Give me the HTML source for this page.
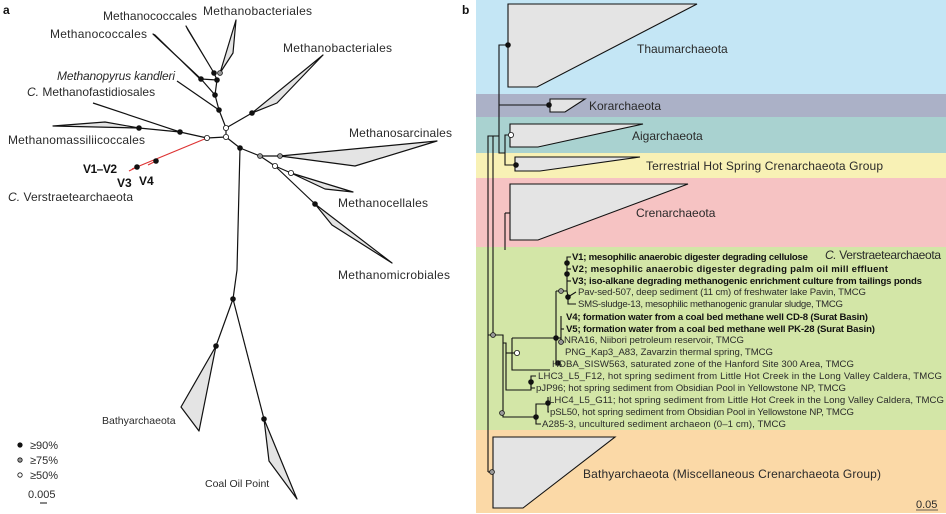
<!DOCTYPE html>
<html><head><meta charset="utf-8"><style>
html,body{margin:0;padding:0;background:#fff}
svg{display:block}
text{font-family:"Liberation Sans",sans-serif;fill:#2a2a2a}
.s{font-size:9.6px}
.b{font-weight:bold;fill:#111}
</style></head><body>
<svg width="946" height="514" viewBox="0 0 946 514" xmlns="http://www.w3.org/2000/svg">
<rect x="476" y="0" width="470" height="94" fill="#c4e6f5"/>
<rect x="476" y="94" width="470" height="23" fill="#abb1c7"/>
<rect x="476" y="117" width="470" height="36" fill="#a9d2d0"/>
<rect x="476" y="153" width="470" height="25" fill="#f8f1b5"/>
<rect x="476" y="178" width="470" height="69" fill="#f6c3c3"/>
<rect x="476" y="247" width="470" height="183" fill="#d3e6a7"/>
<rect x="476" y="430" width="470" height="83" fill="#fbd9a7"/>

<text x="3" y="14" style="font-size:12px;font-weight:bold;fill:#111">a</text>
<text x="462" y="14" style="font-size:12px;font-weight:bold;fill:#111">b</text>

<g stroke="#111" stroke-width="1.2" fill="#e4e4e4" stroke-linejoin="round">
<polyline fill="none" points="226,128 219,110 215,95 217,80 214,73"/>
<polyline fill="none" points="226,128 226,137"/>
<polygon points="220,73 236,20 233,53"/>
<polygon points="214,73 186,26 188,30 208,63"/>
<polygon points="201,79 153,34 155,35 199,78"/>
<line x1="217" y1="80" x2="201" y2="79"/>
<line x1="215" y1="95" x2="201" y2="79"/>
<line x1="219" y1="110" x2="177" y2="81"/>
<line x1="226" y1="128" x2="252" y2="113"/>
<polygon points="252,113 323,55 277,103"/>
<polyline fill="none" points="226,137 207,138 180,132 93,103"/>
<line x1="180" y1="132" x2="139" y2="128"/>
<polygon points="139,128 53,126 105,122"/>
<polyline fill="none" points="226,137 240,148 260,156 280,156"/>
<polygon points="280,156 437,141 355,166"/>
<polyline fill="none" points="260,156 275,166 291,173"/>
<polygon points="291,173 353,192 325,189"/>
<line x1="275" y1="166" x2="315" y2="204"/>
<polygon points="315,204 332,225 392,263"/>
<polyline fill="none" points="240,148 237,270 233,299"/>
<line x1="233" y1="299" x2="216" y2="346"/>
<polygon points="216,346 181,407 199,431"/>
<line x1="233" y1="299" x2="264" y2="419"/>
<polygon points="264,419 269,461 297,499"/>
</g>
<g stroke="#d33" stroke-width="1.2" fill="none">
<line x1="207" y1="138" x2="132" y2="169"/>
<line x1="137" y1="167" x2="129" y2="171"/>
<line x1="156" y1="161" x2="148" y2="165"/>
</g>
<g stroke="#111" stroke-width="0.8">
<circle cx="219" cy="110" r="2.4" fill="#111"/>
<circle cx="215" cy="95" r="2.4" fill="#111"/>
<circle cx="217" cy="80" r="2.4" fill="#111"/>
<circle cx="214" cy="73" r="2.4" fill="#111"/>
<circle cx="220" cy="73" r="2.4" fill="#999"/>
<circle cx="201" cy="79" r="2.4" fill="#111"/>
<circle cx="252" cy="113" r="2.4" fill="#111"/>
<circle cx="180" cy="132" r="2.4" fill="#111"/>
<circle cx="139" cy="128" r="2.4" fill="#111"/>
<circle cx="156" cy="161" r="2.4" fill="#111"/>
<circle cx="137" cy="167" r="2.4" fill="#111"/>
<circle cx="240" cy="148" r="2.4" fill="#111"/>
<circle cx="260" cy="156" r="2.4" fill="#999"/>
<circle cx="280" cy="156" r="2.4" fill="#999"/>
<circle cx="315" cy="204" r="2.4" fill="#111"/>
<circle cx="233" cy="299" r="2.4" fill="#111"/>
<circle cx="216" cy="346" r="2.4" fill="#111"/>
<circle cx="264" cy="419" r="2.4" fill="#111"/>
<circle cx="226" cy="128" r="2.6" fill="#fff"/>
<circle cx="226" cy="137" r="2.6" fill="#fff"/>
<circle cx="207" cy="138" r="2.6" fill="#fff"/>
<circle cx="275" cy="166" r="2.6" fill="#fff"/>
<circle cx="291" cy="173" r="2.6" fill="#fff"/>
<circle cx="20" cy="445" r="2.2" fill="#111"/>
<circle cx="20" cy="460" r="2.2" fill="#999"/>
<circle cx="20" cy="475" r="2.2" fill="#fff"/>
</g>
<g style="font-size:12px">
<text x="103" y="20" textLength="94">Methanococcales</text>
<text x="203" y="15" textLength="109">Methanobacteriales</text>
<text x="50" y="38" textLength="97">Methanococcales</text>
<text x="283" y="52" textLength="109">Methanobacteriales</text>
<text x="57" y="80" textLength="118" style="font-style:italic">Methanopyrus kandleri</text>
<text x="27" y="96"><tspan style="font-style:italic">C.</tspan> Methanofastidiosales</text>
<text x="8" y="144" textLength="137">Methanomassiliicoccales</text>
<text x="349" y="137" textLength="103">Methanosarcinales</text>
<text x="83" y="173" class="b" textLength="34">V1–V2</text>
<text x="117" y="187" class="b">V3</text>
<text x="139" y="185" class="b">V4</text>
<text x="8" y="201" textLength="125"><tspan style="font-style:italic">C.</tspan> Verstraetearchaeota</text>
<text x="338" y="207" textLength="90">Methanocellales</text>
<text x="338" y="279" textLength="112">Methanomicrobiales</text>
</g>
<text x="102" y="424" style="font-size:10.5px">Bathyarchaeota</text>
<text x="205" y="487" style="font-size:10.5px">Coal Oil Point</text>
<text x="30" y="449" style="font-size:11px">≥90%</text>
<text x="30" y="464" style="font-size:11px">≥75%</text>
<text x="30" y="479" style="font-size:11px">≥50%</text>
<text x="28" y="498" style="font-size:11px">0.005</text>
<line x1="40" y1="503" x2="47" y2="503" stroke="#111" stroke-width="1"/>

<g stroke="#111" stroke-width="1.1" fill="#e4e4e4" stroke-linejoin="miter">
<polygon points="508,4 697,4 537,87 508,87"/>
<polygon points="550,99 585,99 565,112 550,112"/>
<polygon points="510,124 643,124 538,147 510,147"/>
<polygon points="515,157 640,157 540,171 515,171"/>
<polygon points="510,184 688,184 538,240 510,240"/>
<polygon points="493,437 615,437 523,508 493,508"/>
<g fill="none">
<polyline points="508,45 499,45 499,153 505,153"/>
<line x1="499" y1="105" x2="550" y2="105"/>
<polyline points="510,135 505,135 505,165 515,165"/>
<polyline points="488,472 488,136 499,136"/>
<polyline points="493,472 488,472"/>
<polyline points="505,213 510,213"/>
<polyline points="488,335 493,335 493,136"/>
<polyline points="505,213 505,250"/>
<polyline points="493,335 503,335 503,417 536,417"/>
<polyline points="536,417 536,404 548,404"/>
<polyline points="536,417 536,424 541,424"/>
<polyline points="548,397 548,412 549,412"/>
<polyline points="503,343 506,343 506,390 531,390 531,376 536,376"/>
<polyline points="531,382 531,388 535,388"/>
<polyline points="506,353 517,353"/>
<polyline points="512,338 512,370 550,370"/>
<polyline points="512,338 556,338"/>
<polyline points="556,291 556,365 562,365"/>
<polyline points="556,291 567,291 567,257 571,257"/>
<polyline points="567,269 571,269"/>
<polyline points="567,281 571,281"/>
<polyline points="567,291 568,297 576,292"/>
<polyline points="568,297 568,304 576,304"/>
<polyline points="561,316 561,342 564,342"/>
<polyline points="556,338 561,338"/>
<polyline points="561,329 564,329"/>
</g>
</g>
<g stroke="#111" stroke-width="0.8">
<circle cx="508" cy="45" r="2.4" fill="#111"/>
<circle cx="549" cy="105" r="2.4" fill="#111"/>
<circle cx="511" cy="135" r="2.6" fill="#fff"/>
<circle cx="516" cy="165" r="2.4" fill="#111"/>
<circle cx="492" cy="472" r="2.4" fill="#999"/>
<circle cx="493" cy="335" r="2.4" fill="#999"/>
<circle cx="502" cy="413" r="2.4" fill="#999"/>
<circle cx="536" cy="417" r="2.4" fill="#111"/>
<circle cx="548" cy="403" r="2.4" fill="#111"/>
<circle cx="531" cy="382" r="2.4" fill="#111"/>
<circle cx="517" cy="353" r="2.6" fill="#fff"/>
<circle cx="556" cy="338" r="2.4" fill="#111"/>
<circle cx="558" cy="363" r="2.4" fill="#111"/>
<circle cx="561" cy="291" r="2.4" fill="#999"/>
<circle cx="567" cy="263" r="2.4" fill="#111"/>
<circle cx="567" cy="274" r="2.4" fill="#111"/>
<circle cx="568" cy="297" r="2.4" fill="#111"/>
<circle cx="561" cy="342" r="2.4" fill="#999"/>
</g>
<g style="font-size:12px">
<text x="637" y="53">Thaumarchaeota</text>
<text x="589" y="110">Korarchaeota</text>
<text x="632" y="140">Aigarchaeota</text>
<text x="646" y="170" textLength="237">Terrestrial Hot Spring Crenarchaeota Group</text>
<text x="636" y="217">Crenarchaeota</text>
<text x="583" y="478" textLength="298">Bathyarchaeota (Miscellaneous Crenarchaeota Group)</text>
<text x="825" y="259" textLength="116"><tspan style="font-style:italic">C.</tspan> Verstraetearchaeota</text>
<text x="916" y="508" style="font-size:11px">0.05</text>
</g>
<line x1="916" y1="510" x2="938" y2="510" stroke="#333" stroke-width="0.8"/>
<g class="s">
<text x="572" y="260" class="b" textLength="236">V1; mesophilic anaerobic digester degrading cellulose</text>
<text x="572" y="272" class="b" textLength="316">V2; mesophilic anaerobic digester degrading palm oil mill effluent</text>
<text x="572" y="284" class="b" textLength="350">V3; iso-alkane degrading methanogenic enrichment culture from tailings ponds</text>
<text x="578" y="295" textLength="288">Pav-sed-507, deep sediment (11 cm) of freshwater lake Pavin, TMCG</text>
<text x="578" y="307" textLength="265">SMS-sludge-13, mesophilic methanogenic granular sludge, TMCG</text>
<text x="566" y="320" class="b" textLength="302">V4; formation water from a coal bed methane well CD-8 (Surat Basin)</text>
<text x="566" y="332" class="b" textLength="309">V5; formation water from a coal bed methane well PK-28 (Surat Basin)</text>
<text x="564" y="343" textLength="180">NRA16, Niibori petroleum reservoir, TMCG</text>
<text x="565" y="355" textLength="208">PNG_Kap3_A83, Zavarzin thermal spring, TMCG</text>
<text x="552" y="367" textLength="302">HDBA_SISW563, saturated zone of the Hanford Site 300 Area, TMCG</text>
<text x="538" y="379" textLength="404">LHC3_L5_F12, hot spring sediment from Little Hot Creek in the Long Valley Caldera, TMCG</text>
<text x="536" y="391" textLength="310">pJP96; hot spring sediment from Obsidian Pool in Yellowstone NP, TMCG</text>
<text x="549" y="403" textLength="395">LHC4_L5_G11; hot spring sediment from Little Hot Creek in the Long Valley Caldera, TMCG</text>
<text x="550" y="415" textLength="304">pSL50, hot spring sediment from Obsidian Pool in Yellowstone NP, TMCG</text>
<text x="542" y="427" textLength="244">A285-3, uncultured sediment archaeon (0–1 cm), TMCG</text>
</g>
</svg>
</body></html>
